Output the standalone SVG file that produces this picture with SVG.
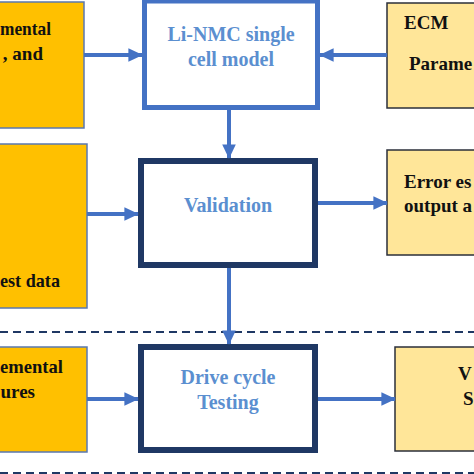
<svg xmlns="http://www.w3.org/2000/svg" width="474" height="474" viewBox="0 0 474 474">
<defs>
<style>
.orange{fill:#ffc000;stroke:#5a78b0;stroke-width:1.5}
.yellow{fill:#ffe699;stroke:#2b2f3a;stroke-width:1.5}
.model{fill:#fff;stroke:#4472c4;stroke-width:5}
.proc{fill:#fff;stroke:#1f3864;stroke-width:6}
.bt{font-family:"Liberation Serif","Times New Roman",serif;font-weight:bold;font-size:19px;fill:#111}
.lt{font-family:"Liberation Serif","Times New Roman",serif;font-weight:bold;font-size:20px;fill:#5b8fd0;text-anchor:middle}
.conn{stroke:#4472c4;stroke-width:4;fill:none}
.dash{stroke:#1f3864;stroke-width:2;stroke-dasharray:8 5;fill:none}
</style>
<marker id="ah" markerWidth="3.6" markerHeight="3.4" refX="3.4" refY="1.7" orient="auto" markerUnits="strokeWidth">
<path d="M0,0 L3.6,1.7 L0,3.4 Z" fill="#4472c4"/>
</marker>
</defs>
<rect width="474" height="474" fill="#fff"/>
<g id="separators">
<line class="dash" x1="0" y1="332" x2="474" y2="332"/>
<line class="dash" x1="0" y1="473" x2="474" y2="473"/>
</g>
<g id="exp-data">
<rect class="orange" x="-10" y="2" width="94" height="126"/>
<text class="bt" x="0" y="35" textLength="51" lengthAdjust="spacingAndGlyphs">mental</text>
<text class="bt" x="43" y="60" text-anchor="end">, and</text>
</g>
<g id="li-nmc">
<rect class="model" x="144.5" y="1" width="173" height="106.5"/>
<text class="lt" x="231" y="41">Li-NMC single</text>
<text class="lt" x="231" y="66">cell model</text>
</g>
<g id="ecm">
<rect class="yellow" x="387" y="3" width="95" height="105"/>
<text class="bt" x="404" y="29">ECM</text>
<text class="bt" x="409" y="70">Parame</text>
</g>
<g id="test-data">
<rect class="orange" x="-10" y="144" width="97" height="164"/>
<text class="bt" x="0" y="287" textLength="60" lengthAdjust="spacingAndGlyphs">est data</text>
</g>
<g id="validation">
<rect class="proc" x="141" y="161" width="174" height="104"/>
<text class="lt" x="228" y="212">Validation</text>
</g>
<g id="error">
<rect class="yellow" x="387" y="150" width="95" height="105"/>
<text class="bt" x="404" y="188">Error es</text>
<text class="bt" x="404" y="212">output a</text>
</g>
<g id="exp-procedures">
<rect class="orange" x="-10" y="347" width="97" height="105"/>
<text class="bt" x="0" y="373" textLength="63" lengthAdjust="spacingAndGlyphs">emental</text>
<text class="bt" x="35" y="398" text-anchor="end">ures</text>
</g>
<g id="drive-cycle">
<rect class="proc" x="141" y="347" width="174" height="103"/>
<text class="lt" x="228" y="384">Drive cycle</text>
<text class="lt" x="228" y="409">Testing</text>
</g>
<g id="vs">
<rect class="yellow" x="395" y="347" width="90" height="104"/>
<text class="bt" x="458" y="380">V</text>
<text class="bt" x="463" y="405">S</text>
</g>
<g id="connectors">
<line class="conn" x1="84" y1="55" x2="142" y2="55" marker-end="url(#ah)"/>
<line class="conn" x1="387" y1="55" x2="320" y2="55" marker-end="url(#ah)"/>
<line class="conn" x1="229" y1="110" x2="229" y2="158" marker-end="url(#ah)"/>
<line class="conn" x1="87" y1="214" x2="138" y2="214" marker-end="url(#ah)"/>
<line class="conn" x1="318" y1="203" x2="387" y2="203" marker-end="url(#ah)"/>
<line class="conn" x1="229" y1="268" x2="229" y2="344" marker-end="url(#ah)"/>
<line class="conn" x1="87" y1="399" x2="138" y2="399" marker-end="url(#ah)"/>
<line class="conn" x1="318" y1="399" x2="395" y2="399" marker-end="url(#ah)"/>
</g>
</svg>
